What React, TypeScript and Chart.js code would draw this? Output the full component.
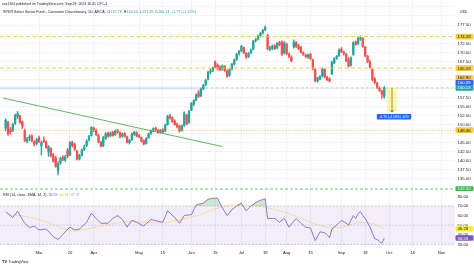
import React, { useEffect, useRef } from 'react';
import { Chart, registerables } from 'chart.js';

Chart.register(...registerables);

const FONT = '"Liberation Sans", Arial, sans-serif';
const UP = '#26a69a';
const DOWN = '#ef5350';
const TEXT = '#131722';

// ---- daily candles, bar 0 = 2023-02-08 ... bar 159 = 2023-09-28 ----
const openP = [149.0,150.6,148.6,148.3,150.4,152.2,152.4,150.8,148.4,145.4,146.2,146.9,145.2,144.8,146.4,144.2,145.6,145.2,142.4,143.4,141.6,140.8,137.2,139.4,140.9,140.2,142.8,141.6,145.0,144.4,142.6,140.6,141.6,143.2,144.2,145.8,147.0,149.0,148.4,147.0,145.0,144.2,146.2,147.6,146.9,147.8,147.2,148.4,147.8,146.8,147.5,146.6,145.0,145.8,147.3,147.8,146.9,146.4,145.6,144.8,146.4,147.6,148.4,149.0,148.4,147.9,148.6,148.2,150.0,152.4,151.9,150.9,150.2,149.6,148.4,149.8,152.6,150.6,154.0,155.6,156.8,158.8,158.0,159.9,161.0,162.6,164.5,165.0,167.2,166.4,165.8,165.3,166.0,164.8,163.6,165.4,166.7,168.0,169.6,170.4,171.2,169.6,168.8,169.8,170.8,173.2,173.6,174.6,175.4,176.2,174.6,170.8,171.0,171.8,171.2,172.6,172.8,169.8,172.2,169.4,168.6,171.4,172.6,171.8,171.4,169.8,169.2,168.6,169.4,167.8,165.2,162.0,162.6,163.4,165.2,163.0,162.6,164.0,167.0,168.4,169.0,170.8,170.0,169.4,167.8,166.4,169.4,172.8,172.4,173.6,173.8,171.4,168.8,167.2,165.2,162.6,161.4,160.0,159.2,157.78];
const highP = [151.6,150.9,149.2,150.4,152.9,153.6,152.6,151.0,148.8,146.5,147.1,147.2,145.5,146.2,146.8,145.4,146.6,145.5,144.2,143.6,142.0,141.2,139.8,141.0,141.4,141.5,143.4,145.4,145.4,144.8,142.9,141.8,143.3,144.3,145.8,147.0,149.4,149.3,148.8,147.3,145.4,146.7,147.8,147.9,148.0,148.1,148.5,148.7,148.0,147.7,147.8,146.8,145.9,147.7,148.1,148.0,147.3,146.6,145.8,146.4,147.7,148.5,149.1,149.3,148.7,148.7,148.9,150.1,152.6,152.8,152.1,151.3,150.4,149.8,149.9,153.5,152.8,153.9,156.1,156.9,158.5,159.4,160.1,161.1,162.5,164.7,165.3,165.9,167.6,166.8,166.3,166.5,166.3,165.1,165.5,166.9,168.1,169.7,170.5,171.9,171.4,169.9,169.9,170.9,173.3,173.8,174.7,175.5,176.3,177.3,174.9,171.7,172.0,172.1,172.7,173.0,173.1,172.9,172.5,169.8,169.0,173.4,173.0,172.2,171.6,170.1,169.5,169.5,169.7,168.1,165.5,163.1,163.5,165.7,165.4,163.4,162.9,167.5,168.5,169.1,170.9,171.3,170.3,169.7,168.6,168.7,172.9,173.1,174.2,174.5,174.0,171.6,169.1,167.8,165.5,163.0,161.7,160.4,159.5,160.54];
const lowP = [148.2,147.0,147.3,148.0,150.0,151.6,150.3,148.9,145.3,144.9,145.5,145.2,144.1,144.4,145.0,141.6,145.0,143.4,141.2,141.0,139.6,138.2,136.1,139.0,140.0,139.8,140.9,141.4,143.8,142.8,140.2,140.2,141.3,142.8,143.9,145.4,146.8,148.0,146.9,144.9,143.8,143.9,145.9,146.5,146.6,146.8,147.0,147.6,146.3,146.5,146.5,144.9,144.6,145.6,147.0,146.6,146.3,145.2,144.4,144.6,146.2,147.3,148.0,148.3,147.6,147.6,147.7,148.0,149.8,151.5,150.6,149.8,149.1,147.9,148.2,149.5,149.9,150.3,153.8,155.2,156.5,157.5,157.7,159.6,160.7,162.3,164.0,164.6,165.6,165.1,164.9,165.0,164.7,163.0,163.3,165.1,166.4,167.7,169.2,170.1,169.5,168.3,168.5,169.5,170.6,172.8,173.3,174.2,175.0,175.9,170.6,170.4,170.7,170.7,170.9,171.7,169.1,169.5,169.3,168.5,167.3,171.1,171.3,170.7,169.7,169.1,168.4,168.3,167.9,165.1,161.8,161.7,162.3,163.1,162.9,162.1,161.8,163.8,166.8,168.0,168.8,169.9,169.2,167.3,165.9,166.1,169.1,171.9,172.1,173.2,171.3,168.7,167.1,165.5,162.1,161.2,159.9,159.1,157.2,157.28];
const closeP = [151.2,147.5,148.0,150.0,152.5,153.0,150.6,149.5,145.6,146.0,146.6,145.5,144.6,145.8,145.3,145.0,145.4,143.6,143.8,141.4,139.8,138.4,139.2,140.6,140.4,141.0,141.2,145.0,144.2,143.2,140.4,141.4,143.0,143.8,145.4,146.6,149.2,148.6,147.2,145.2,144.0,146.4,147.4,146.8,147.6,147.0,148.2,147.9,146.6,147.4,146.8,145.1,145.6,147.4,147.9,146.8,146.6,145.4,144.6,146.2,147.4,148.2,148.8,148.6,147.8,148.4,148.0,149.8,152.2,151.8,150.8,150.0,149.4,148.2,149.6,153.2,150.2,153.6,155.8,156.6,158.2,157.8,159.8,160.8,162.2,164.4,164.8,165.6,165.9,165.4,165.2,166.2,165.0,163.4,165.2,166.6,167.8,169.4,170.2,171.6,169.8,168.6,169.6,170.6,173.0,173.4,174.4,175.2,176.0,176.8,171.0,171.2,171.6,171.0,172.4,172.0,169.4,172.6,169.6,168.8,167.6,172.8,171.6,171.0,170.0,169.4,168.8,169.2,168.2,165.4,162.2,162.8,163.2,165.4,163.2,162.4,162.0,167.2,168.2,168.8,170.6,170.2,169.6,167.6,166.2,168.4,172.6,172.2,173.8,174.0,171.6,169.0,167.4,165.8,162.4,161.6,160.2,159.4,158.36,160.13];

// time axis labels (bar index of the labelled trading day)
const timeTickBars = [14, 27, 37, 56, 66, 78, 88, 99, 109, 118, 128, 141, 151, 161, 171, 183];
const timeTickLabels = ['Mar', '20', 'Apr', 'May', '15', 'Jun', '15', 'Jul', '18', 'Aug', '15', 'Sep', '18', 'Oct', '16', 'Nov'];

// price axis
const priceGridTicks = [135, 137.5, 140, 142.5, 145, 147.5, 150, 152.5, 155, 157.5, 160, 162.5, 165, 167.5, 170, 172.5, 175, 177.5, 180, 182.5];
const priceTickLabels = [177.5, 172.5, 170, 167.5, 157.5, 155, 152.5, 150, 145, 142.5, 140, 137.5, 135];
const axisBoxValues = [174.28, 165.59, 162.9, 161.5, 160.13, 148.46, 132.2];
const axisBoxTexts = ['174.28', '165.59', '162.90', '160.39', '160.13', '148.46', '132.20'];
const axisBoxKinds = ['level', 'level', 'level', 'blue', 'last', 'level', 'green'];

// drawings
const dashedLevels = [174.28, 165.59];
const dottedLevel = 148.46;
const supportLevel = 132.2;
const lastLevel = 160.13;
const lastBandEndBar = 84;
const trendBars = [-1.12, 90.86];
const trendValues = [157.33, 143.94];
const measureBars = [160.2, 164.3];
const measureValues = [160.13, 153.43];

// RSI (14) and its SMA (14)
const rsiBars = [0,3,5,8,10,12,14,17,20,22,25,27,29,31,34,36,38,40,43,45,47,49,51,53,55,58,61,64,66,68,71,73,75,78,80,83,85,87,89,91,93,95,97,99,101,103,106,109,110,112,113,115,117,119,122,124,126,128,130,132,134,135,136,137,139,141,143,144,146,147,148,149,150,151,153,155,156,157,158,159];
const rsiValues = [64,58,64.5,52,47.5,49,45,46,38,35,43,48,45,46,53,62.5,57,52,52,57,60,56,48,55,53,49,56,54,53,65,58,52,60,61,71,73,77,78,78,68,60,66,70,73,65,70,75,77.5,57,57,57,53,57,48,57,52,48,47,34,43,42,40,37,46,50,55,52,50,60,57,62,64,60,57,48,36,35,33,31,36.59];
const rsiMaBars = [0,6,12,18,24,30,36,42,50,58,66,74,82,88,94,100,106,112,118,124,130,136,142,148,154,159];
const rsiMaValues = [61,60,57,53,46,44,47,50,54,53,52,56,61,67,71,71,70,67,63,57,51,47,48,53,52,46.28];
const rsiTickLabels = [80, 70, 60, 50, 40, 30];
const rsiBandLevels = [70, 50, 30];

// header
const publishLine = 'zaz1104 published on TradingView.com, Sep 28, 2023 16:41 UTC-4';
const symbolName = 'SPDR Select Sector Fund - Consumer Discretionary, 1D, ARCA';
const ohlcLabels = ['O', 'H', 'L', 'C'];
const ohlcValues = ['157.78', '160.54', '157.28', '160.13'];
const changeText = '+1.77 (+1.12%)';

const X_MIN = -2.38;
const X_MAX = 188.7;
const P_MIN = 131.645;
const P_MAX = 184.406;
const R_MIN = 26.2;
const R_MAX = 85.6;
const AXIS_W = 19;

function rrect(ctx: any, x: number, y: number, w: number, h: number, r: number) {
  ctx.beginPath();
  if (ctx.roundRect) ctx.roundRect(x, y, w, h, r);
  else ctx.rect(x, y, w, h);
}

function axisBox(ctx: any, left: number, width: number, y: number, text: string, bg: string, fg: string) {
  const h = 5.6;
  ctx.fillStyle = bg;
  rrect(ctx, left + 0.5, y - h / 2, width - 1, h, 1);
  ctx.fill();
  ctx.fillStyle = fg;
  ctx.textAlign = 'left';
  ctx.textBaseline = 'middle';
  ctx.fillText(text, left + 2.5, y + 0.3);
}

const priceOverlay = {
  id: 'priceOverlay',
  afterDatasetsDraw(chart: any) {
    const { ctx } = chart;
    const x = chart.scales.x;
    const y = chart.scales.y;
    const xa = x.getPixelForValue(measureBars[0]);
    const xb = x.getPixelForValue(measureBars[1]);
    const ya = y.getPixelForValue(measureValues[0]);
    const yb = y.getPixelForValue(measureValues[1]);
    ctx.save();
    ctx.fillStyle = 'rgba(255,235,59,0.45)';
    ctx.fillRect(xa, ya, xb - xa, yb - ya);
    const xm = (xa + xb) / 2;
    ctx.strokeStyle = '#434651';
    ctx.lineWidth = 0.6;
    ctx.beginPath();
    ctx.moveTo(xm, ya);
    ctx.lineTo(xm, yb);
    ctx.stroke();
    ctx.beginPath();
    ctx.moveTo(xm - 1.6, yb - 2);
    ctx.lineTo(xm, yb);
    ctx.lineTo(xm + 1.6, yb - 2);
    ctx.stroke();
    const diff = measureValues[1] - measureValues[0];
    const pct = (diff / measureValues[0]) * 100;
    const txt = `${diff.toFixed(2)} (${pct.toFixed(2)}%) ${Math.round(diff * 100)}`;
    ctx.font = `3.4px ${FONT}`;
    const w = ctx.measureText(txt).width + 5;
    const ly = yb + 4.6;
    ctx.fillStyle = '#2962ff';
    rrect(ctx, xm + 2 - w / 2, ly - 2.8, w, 5.6, 0.8);
    ctx.fill();
    ctx.fillStyle = '#ffffff';
    ctx.textAlign = 'center';
    ctx.textBaseline = 'middle';
    ctx.fillText(txt, xm + 2, ly + 0.2);
    ctx.restore();
  },
  afterDraw(chart: any) {
    const { ctx, chartArea } = chart;
    const y = chart.scales.y;
    const left = chartArea.right;
    ctx.save();
    ctx.font = `4.3px ${FONT}`;
    ctx.fillStyle = TEXT;
    ctx.textAlign = 'left';
    ctx.textBaseline = 'middle';
    priceTickLabels.forEach((v) => ctx.fillText(v.toFixed(2), left + 2.5, y.getPixelForValue(v) + 0.3));
    axisBoxValues.forEach((v, i) => {
      const kind = axisBoxKinds[i];
      const bg = kind === 'level' ? '#f7c948' : kind === 'last' ? UP : kind === 'green' ? '#4caf50' : '#2962ff';
      const fg = kind === 'level' ? TEXT : '#ffffff';
      axisBox(ctx, left, AXIS_W, y.getPixelForValue(v), axisBoxTexts[i], bg, fg);
    });
    // header
    ctx.font = `3.5px ${FONT}`;
    ctx.fillStyle = TEXT;
    ctx.textBaseline = 'middle';
    ctx.fillText(publishLine, 2, 4);
    let cx = 3;
    const cy = 12.3;
    ctx.font = `3.6px ${FONT}`;
    ctx.fillText(symbolName, cx, cy);
    cx += ctx.measureText(symbolName).width + 3;
    ohlcLabels.forEach((l, i) => {
      ctx.fillStyle = TEXT;
      ctx.fillText(l, cx, cy);
      cx += ctx.measureText(l).width + 0.4;
      ctx.fillStyle = UP;
      ctx.fillText(ohlcValues[i], cx, cy);
      cx += ctx.measureText(ohlcValues[i]).width + 2;
    });
    ctx.fillText(changeText, cx, cy);
    ctx.fillStyle = TEXT;
    ctx.font = `3.4px ${FONT}`;
    ctx.fillText('USD', left + 5, 12.3);
    ctx.restore();
  },
};

const rsiOverlay = {
  id: 'rsiOverlay',
  afterDraw(chart: any) {
    const { ctx, chartArea } = chart;
    const x = chart.scales.x;
    const y = chart.scales.y;
    const left = chartArea.right;
    ctx.save();
    ctx.font = `4.3px ${FONT}`;
    ctx.fillStyle = TEXT;
    ctx.textAlign = 'left';
    ctx.textBaseline = 'middle';
    rsiTickLabels.forEach((v) => ctx.fillText(v.toFixed(2), left + 2.5, y.getPixelForValue(v) + 0.3));
    axisBox(ctx, left, AXIS_W, y.getPixelForValue(rsiMaValues[rsiMaValues.length - 1]), rsiMaValues[rsiMaValues.length - 1].toFixed(2), '#ffeb3b', TEXT);
    axisBox(ctx, left, AXIS_W, y.getPixelForValue(rsiValues[rsiValues.length - 1]), rsiValues[rsiValues.length - 1].toFixed(2), '#7e57c2', '#ffffff');
    // time axis
    ctx.font = `4.2px ${FONT}`;
    ctx.fillStyle = TEXT;
    ctx.textAlign = 'center';
    timeTickBars.forEach((b, i) => ctx.fillText(timeTickLabels[i], x.getPixelForValue(b), chartArea.bottom + 5.2));
    // legend
    ctx.textAlign = 'left';
    ctx.font = `3.6px ${FONT}`;
    let cx = 3;
    const cy = 4.3;
    const parts: [string, string][] = [
      ['RSI (14, close, SMA, 14, 2)', TEXT],
      [rsiValues[rsiValues.length - 1].toFixed(2), '#7e57c2'],
      [rsiMaValues[rsiMaValues.length - 1].toFixed(2), '#f9a825'],
      ['\u2205', '#787b86'],
      ['\u2205', '#787b86'],
    ];
    parts.forEach(([t, c]) => {
      ctx.fillStyle = c;
      ctx.fillText(t, cx, cy);
      cx += ctx.measureText(t).width + 2;
    });
    // logo
    ctx.fillStyle = TEXT;
    ctx.font = `bold 4px ${FONT}`;
    ctx.fillText('TV', 2, 71);
    ctx.font = `3.6px ${FONT}`;
    ctx.fillText('TradingView', 8.5, 71);
    ctx.restore();
  },
};

function hLine(value: number, color: string, dash: number[], width: number, order: number, fromBar = X_MIN, toBar = X_MAX) {
  return {
    type: 'line',
    data: [{ x: fromBar, y: value }, { x: toBar, y: value }],
    borderColor: color,
    borderDash: dash,
    borderWidth: width,
    pointRadius: 0,
    fill: false,
    order,
  };
}

export default function App() {
  const priceRef = useRef<HTMLCanvasElement>(null);
  const rsiRef = useRef<HTMLCanvasElement>(null);

  useEffect(() => {
    document.body.style.margin = '0';
    const idx = openP.map((_, i) => i);
    const colors = idx.map((i) => (closeP[i] >= openP[i] ? UP : DOWN));

    const xScaleBase = {
      type: 'linear',
      min: X_MIN,
      max: X_MAX,
      offset: false,
      ticks: { display: false },
      grid: { color: '#f0f3fa', drawTicks: false, offset: false },
      border: { display: false },
      afterBuildTicks: (s: any) => {
        s.ticks = timeTickBars.filter((v) => v <= X_MAX).map((v) => ({ value: v }));
      },
    };

    const price = new Chart(priceRef.current as HTMLCanvasElement, {
      type: 'bar',
      data: {
        datasets: [
          hLine(lastLevel, 'rgba(41,98,255,0.13)', [], 3, 5, X_MIN, lastBandEndBar),
          hLine(lastLevel, 'rgba(190,170,110,0.8)', [3, 2], 0.8, 1, lastBandEndBar, X_MAX),
          ...dashedLevels.map((v) => hLine(v, '#f2c94c', [4, 2.5], 1, 1)),
          hLine(dottedLevel, 'rgba(245,166,35,0.8)', [1.5, 1.5], 0.8, 1),
          hLine(supportLevel, '#66bb6a', [3, 2], 0.9, 1),
          {
            type: 'bar',
            data: idx.map((i) => ({ x: i, y: [lowP[i], highP[i]] })),
            backgroundColor: colors,
            barThickness: 0.8,
            grouped: false,
            order: 3,
          },
          {
            type: 'bar',
            data: idx.map((i) => ({ x: i, y: [openP[i], closeP[i]] })),
            backgroundColor: colors,
            barThickness: 1.7,
            minBarLength: 0.8,
            grouped: false,
            order: 2,
          },
          {
            type: 'line',
            data: trendBars.map((b, i) => ({ x: b, y: trendValues[i] })),
            borderColor: '#4caf50',
            borderWidth: 0.9,
            pointRadius: 0,
            fill: false,
            order: 0,
          },
        ] as any,
      },
      options: {
        responsive: false,
        animation: false,
        devicePixelRatio: 1,
        layout: { padding: 0 },
        events: [],
        plugins: { legend: { display: false }, tooltip: { enabled: false } },
        scales: {
          x: { ...xScaleBase, afterFit: (s: any) => { s.height = 0; } },
          y: {
            type: 'linear',
            position: 'right',
            min: P_MIN,
            max: P_MAX,
            ticks: { display: false },
            grid: { color: '#f0f3fa', drawTicks: false },
            border: { display: false },
            afterBuildTicks: (s: any) => { s.ticks = priceGridTicks.map((v) => ({ value: v })); },
            afterFit: (s: any) => { s.width = AXIS_W; },
          },
        } as any,
      },
      plugins: [priceOverlay],
    } as any);

    const rsiPts = rsiBars.map((b, i) => ({ x: b, y: rsiValues[i] }));
    const maPts = rsiMaBars.map((b, i) => ({ x: b, y: rsiMaValues[i] }));

    const rsi = new Chart(rsiRef.current as HTMLCanvasElement, {
      type: 'line',
      data: {
        datasets: [
          {
            data: rsiPts,
            borderColor: 'rgba(0,0,0,0)',
            borderWidth: 0,
            pointRadius: 0,
            fill: { target: { value: rsiBandLevels[0] }, above: 'rgba(76,175,80,0.28)', below: 'rgba(0,0,0,0)' },
            order: 6,
          },
          {
            data: rsiPts,
            borderColor: 'rgba(0,0,0,0)',
            borderWidth: 0,
            pointRadius: 0,
            fill: { target: { value: rsiBandLevels[2] }, above: 'rgba(0,0,0,0)', below: 'rgba(242,54,69,0.28)' },
            order: 6,
          },
          { ...hLine(rsiBandLevels[0], 'rgba(120,123,134,0.55)', [2, 1.5], 0.7, 4) },
          { ...hLine(rsiBandLevels[2], 'rgba(120,123,134,0.55)', [2, 1.5], 0.7, 4), fill: '-1', backgroundColor: 'rgba(126,87,194,0.1)' },
          { ...hLine(rsiBandLevels[1], 'rgba(120,123,134,0.4)', [2, 1.5], 0.7, 4) },
          {
            data: maPts,
            borderColor: 'rgba(251,192,45,0.55)',
            borderWidth: 0.8,
            pointRadius: 0,
            fill: false,
            order: 2,
          },
          {
            data: rsiPts,
            borderColor: '#7e57c2',
            borderWidth: 0.8,
            pointRadius: 0,
            fill: false,
            order: 1,
          },
        ] as any,
      },
      options: {
        responsive: false,
        animation: false,
        devicePixelRatio: 1,
        layout: { padding: 0 },
        events: [],
        plugins: { legend: { display: false }, tooltip: { enabled: false } },
        scales: {
          x: { ...xScaleBase, afterFit: (s: any) => { s.height = 20; } },
          y: {
            type: 'linear',
            position: 'right',
            min: R_MIN,
            max: R_MAX,
            ticks: { display: false },
            grid: { display: false },
            border: { display: false },
            afterFit: (s: any) => { s.width = AXIS_W; },
          },
        } as any,
      },
      plugins: [rsiOverlay],
    } as any);

    return () => {
      price.destroy();
      rsi.destroy();
    };
  }, []);

  return (
    <div style={{ position: 'fixed', left: 0, top: 0, width: 474, height: 268, background: '#ffffff' }}>
      <canvas ref={priceRef} width={474} height={191} style={{ position: 'absolute', left: 0, top: 0, width: 474, height: 191 }} />
      <canvas ref={rsiRef} width={474} height={77} style={{ position: 'absolute', left: 0, top: 191, width: 474, height: 77 }} />
    </div>
  );
}
